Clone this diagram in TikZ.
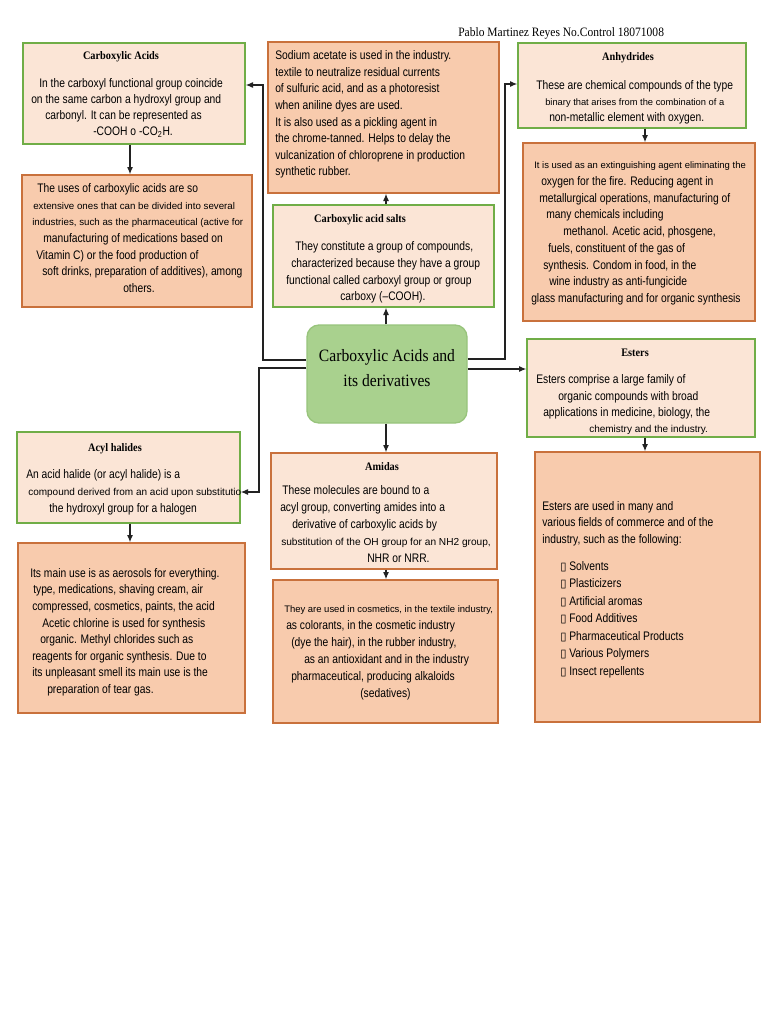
\documentclass[tikz,border=0pt]{standalone}
\usepackage{fontspec}
\usetikzlibrary{arrows.meta,fit}
\newfontfamily\nar[FakeStretch=0.83,Ligatures=TeX]{Liberation Sans}
\newfontfamily\reg[Ligatures=TeX]{Liberation Sans}
\newfontfamily\ser[FakeStretch=0.9,Ligatures=TeX]{Liberation Serif}
\newfontfamily\dvs{DejaVu Sans}
\newcommand\ind[1]{\hspace*{\dimexpr #1pt*3/4\relax}}
\newcommand\smf[2]{{\reg\fontsize{#1}{12}\selectfont #2}}
\newcommand\bx{{\dvs\fontsize{8.5}{8.5}\selectfont ▯}}
\definecolor{lightfill}{HTML}{FBE5D6}
\definecolor{orfill}{HTML}{F8CBAD}
\definecolor{grn}{HTML}{70AD47}
\definecolor{orb}{HTML}{C9713C}
\definecolor{cfill}{HTML}{A9D18E}
\definecolor{cedge}{HTML}{98C47C}
\definecolor{cline}{HTML}{222222}
\tikzset{
  tbox/.style={draw=grn, fill=lightfill, line width=1pt, inner sep=0pt},
  obox/.style={draw=orb, fill=orfill, line width=1pt, inner sep=0pt},
  abox/.style={draw=orb, fill=lightfill, line width=1pt, inner sep=0pt},
  cbox/.style={draw=cedge, fill=cfill, line width=1pt, inner sep=0pt, rounded corners=9pt,
    align=center, font=\ser\fontsize{13}{18.75}\selectfont},
  txt/.style={inner sep=0pt, anchor=north west, align=left, font=\nar\fontsize{9.3}{12.45}\selectfont},
  hd/.style={inner sep=0pt, font=\ser\bfseries\fontsize{8.6}{10}\selectfont},
  conn/.style={draw=cline, line width=0.9pt},
  arr/.style={conn, -{Latex[length=5.5pt,width=4.5pt]}}
}
\begin{document}
\begin{tikzpicture}[x=0.75pt,y=-0.75pt]
\useasboundingbox[fill=white] (0,0) rectangle (768,1024);

% header
\node[anchor=west, inner sep=0pt, font=\ser\fontsize{9.6}{11}\selectfont] (hdr) at (458,33) {Pablo Martinez Reyes No.Control 18071008};

% boxes
\node[tbox, fit={(23,43) (245,144)}] (ca) {};
\node[obox, fit={(22,175) (252,307)}] (cu) {};
\node[obox, fit={(268,42) (499,193)}] (so) {};
\node[tbox, fit={(273,205) (494,307)}] (sa) {};
\node[tbox, fit={(518,43) (746,128)}] (an) {};
\node[obox, fit={(523,143) (755,321)}] (ax) {};
\node[cbox, fit={(307,325) (467,423)}] (c) {Carboxylic Acids and\\its derivatives};
\node[tbox, fit={(527,339) (755,437)}] (es) {};
\node[obox, fit={(535,452) (760,722)}] (eu) {};
\node[tbox, fit={(17,432) (240,523)}] (ac) {};
\node[obox, fit={(18,543) (245,713)}] (au) {};
\node[abox, fit={(271,453) (497,569)}] (am) {};
\node[obox, fit={(273,580) (498,723)}] (mu) {};

% connectors
\coordinate (xl) at (130,0);
\coordinate (xm) at (386,0);
\coordinate (xr) at (645,0);
\coordinate (j1) at (263,360);
\coordinate (j1t) at (263,85);
\coordinate (j2) at (259,368);
\coordinate (j2b) at (259,492);
\coordinate (j3) at (505,359);
\coordinate (j3t) at (505,84);
\coordinate (j4) at (0,369);
\draw[arr] (c.west |- j1) -- (j1) -- (j1t) -- (ca.east |- j1t);
\draw[arr] (c.west |- j2) -- (j2) -- (j2b) -- (ac.east |- j2b);
\draw[arr] (c.east |- j3) -- (j3) -- (j3t) -- (an.west |- j3t);
\draw[arr] (c.east |- j4) -- (es.west |- j4);
\draw[arr] (c.north -| xm) -- (sa.south -| xm);
\draw[arr] (sa.north -| xm) -- (so.south -| xm);
\draw[arr] (c.south -| xm) -- (am.north -| xm);
\draw[arr] (am.south -| xm) -- (mu.north -| xm);
\draw[arr] (ca.south -| xl) -- (cu.north -| xl);
\draw[arr] (ac.south -| xl) -- (au.north -| xl);
\draw[arr] (an.south -| xr) -- (ax.north -| xr);
\draw[arr] (es.south -| xr) -- (eu.north -| xr);

% headings
\node[hd] (hca) at (121,57) {Carboxylic Acids};
\node[hd] (hsa) at (360,220) {Carboxylic acid salts};
\node[hd] (han) at (628,58) {Anhydrides};
\node[hd] (hes) at (635,353) {Esters};
\node[hd] (hac) at (115,449) {Acyl halides};
\node[hd] (ham) at (382,467) {Amidas};

% texts
\node[txt, font=\nar\fontsize{9.3}{12}\selectfont] (tca) at (31,78.5) {%
\ind{8}In the carboxyl functional group coincide\\
on the same carbon a hydroxyl group and\\
\ind{14}carbonyl. It can be represented as\\
\ind{62}-COOH o -CO\textsubscript{2}H.};

\node[txt] (tcu) at (32,183.5) {%
\ind{5}The uses of carboxylic acids are so\\
\ind{1}\smf{7.3}{extensive ones that can be divided into several}\\
\smf{7.3}{industries, such as the pharmaceutical (active for}\\
\ind{11}manufacturing of medications based on\\
\ind{4}Vitamin C) or the food production of\\
\ind{10}soft drinks, preparation of additives), among\\
\ind{91}others.};

\node[txt] (tso) at (275,50.5) {%
Sodium acetate is used in the industry.\\
textile to neutralize residual currents\\
of sulfuric acid, and as a photoresist\\
when aniline dyes are used.\\
It is also used as a pickling agent in\\
the chrome-tanned. Helps to delay the\\
vulcanization of chloroprene in production\\
synthetic rubber.};

\node[txt, font=\nar\fontsize{9.3}{12.5}\selectfont] (tsa) at (286,241.5) {%
\ind{9}They constitute a group of compounds,\\
\ind{5}characterized because they have a group\\
functional called carboxyl group or group\\
\ind{54}carboxy (–COOH).};

\node[txt, font=\nar\fontsize{9.3}{12}\selectfont] (tan) at (536,80.5) {%
These are chemical compounds of the type\\
\ind{9}\smf{7}{binary that arises from the combination of a}\\
\ind{13}non-metallic element with oxygen.};

\node[txt, font=\nar\fontsize{9.3}{12.56}\selectfont] (tax) at (531,161.5) {%
\ind{3}\smf{7.1}{It is used as an extinguishing agent eliminating the}\\
\ind{10}oxygen for the fire. Reducing agent in\\
\ind{8}metallurgical operations, manufacturing of\\
\ind{15}many chemicals including\\
\ind{32}methanol. Acetic acid, phosgene,\\
\ind{17}fuels, constituent of the gas of\\
\ind{12}synthesis. Condom in food, in the\\
\ind{18}wine industry as anti-fungicide\\
glass manufacturing and for organic synthesis};

\node[txt, font=\nar\fontsize{9.3}{12.2}\selectfont] (tes) at (536,374.5) {%
Esters comprise a large family of\\
\ind{22}organic compounds with broad\\
\ind{7}applications in medicine, biology, the\\
\ind{53}\smf{7.5}{chemistry and the industry.}};

\node[txt] (teu) at (542,501) {%
Esters are used in many and\\
various fields of commerce and of the\\
industry, such as the following:};

\node[txt, font=\nar\fontsize{9.3}{13.1}\selectfont] (tel) at (542,561) {%
\ind{18}\bx\ Solvents\\
\ind{18}\bx\ Plasticizers\\
\ind{18}\bx\ Artificial aromas\\
\ind{18}\bx\ Food Additives\\
\ind{18}\bx\ Pharmaceutical Products\\
\ind{18}\bx\ Various Polymers\\
\ind{18}\bx\ Insect repellents};

\node[txt, font=\nar\fontsize{9.3}{12.75}\selectfont] (tac) at (26,469.5) {%
An acid halide (or acyl halide) is a\\
\ind{2}\smf{7.5}{compound derived from an acid upon substitutio}\\
\ind{23}the hydroxyl group for a halogen};

\node[txt] (tau) at (30,568) {%
Its main use is as aerosols for everything.\\
\ind{3}type, medications, shaving cream, air\\
\ind{2}compressed, cosmetics, paints, the acid\\
\ind{12}Acetic chlorine is used for synthesis\\
\ind{10}organic. Methyl chlorides such as\\
\ind{2}reagents for organic synthesis. Due to\\
\ind{2}its unpleasant smell its main use is the\\
\ind{17}preparation of tear gas.};

\node[txt, font=\nar\fontsize{9.3}{12.75}\selectfont] (tam) at (280,485) {%
\ind{2}These molecules are bound to a\\
acyl group, converting amides into a\\
\ind{12}derivative of carboxylic acids by\\
\ind{1}\smf{7.6}{substitution of the OH group for an NH2 group,}\\
\ind{87}NHR or NRR.};

\node[txt, font=\nar\fontsize{9.3}{12.75}\selectfont] (tmu) at (284,605) {%
\smf{7.1}{They are used in cosmetics, in the textile industry,}\\
\ind{2}as colorants, in the cosmetic industry\\
\ind{7}(dye the hair), in the rubber industry,\\
\ind{20}as an antioxidant and in the industry\\
\ind{7}pharmaceutical, producing alkaloids\\
\ind{76}(sedatives)};
\end{tikzpicture}
\end{document}
